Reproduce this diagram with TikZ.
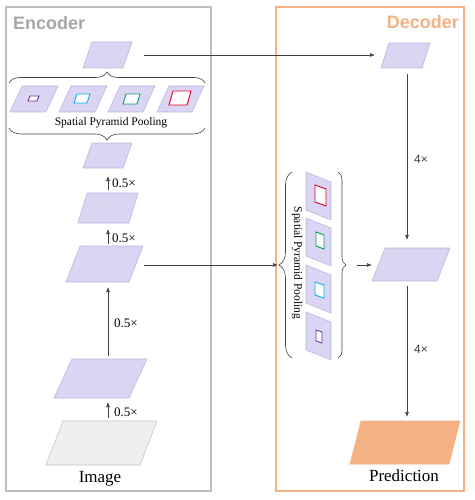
\documentclass[tikz,border=0pt]{standalone}
\usepackage{fontspec}
\setmainfont{Liberation Serif}
\setsansfont{Liberation Sans}
\usetikzlibrary{arrows.meta,decorations.pathreplacing}
\definecolor{lav}{RGB}{217,213,242}
\definecolor{lavd}{RGB}{188,183,226}
\definecolor{imgf}{RGB}{239,239,239}
\definecolor{imgd}{RGB}{196,196,196}
\definecolor{predf}{RGB}{244,177,131}
\definecolor{encg}{RGB}{191,191,191}
\definecolor{enct}{RGB}{166,166,166}
\definecolor{decc}{RGB}{244,177,131}
\definecolor{dline}{RGB}{64,64,64}
\definecolor{ipur}{RGB}{112,48,160}
\definecolor{iblu}{RGB}{0,176,240}
\definecolor{igrn}{RGB}{0,160,100}
\definecolor{ired}{RGB}{230,0,40}
% horizontal parallelogram: name, x0, y0, x1, y1, slant, style
\newcommand\hpara[7]{%
  \node[inner sep=0pt,outer sep=0pt,minimum width={(#4-#2)*1pt},minimum height={(#5-#3)*1pt}] (#1) at ({(#2+#4)/2},{(#3+#5)/2}) {};
  \draw[#7] ({#2+#6},#3) -- (#4,#3) -- ({#4-#6},#5) -- (#2,#5) -- cycle;}
% vertical parallelogram: name, x0, y0, x1, y1, shear, style
\newcommand\vpara[7]{%
  \node[inner sep=0pt,outer sep=0pt,minimum width={(#4-#2)*1pt},minimum height={(#5-#3)*1pt}] (#1) at ({(#2+#4)/2},{(#3+#5)/2}) {};
  \draw[#7] (#2,#3) -- (#4,{#3+#6}) -- (#4,#5) -- (#2,{#5-#6}) -- cycle;}
\begin{document}
\begin{tikzpicture}[x=1pt,y=-1pt,
  lavp/.style={fill=lav,draw=lavd,line width=0.6pt},
  imgp/.style={fill=imgf,draw=imgd,line width=0.6pt},
  predp/.style={fill=predf,draw=predf,line width=0.6pt},
  inner/.style={fill=white,line width=0.9pt},
  arr/.style={draw=dline,line width=0.7pt,-{Latex[length=5pt,width=4pt]}},
  brc/.style={draw=dline,line width=0.6pt,decorate},
  lab/.style={font=\fontsize{13}{15}\selectfont,text=black,inner sep=0pt},
  labs/.style={font=\sffamily\fontsize{12}{14}\selectfont,text=dline,inner sep=0pt},
  spp/.style={font=\fontsize{11.5}{13}\selectfont,inner sep=0pt},
  captext/.style={font=\fontsize{17}{19}\selectfont,inner sep=0pt}]
\useasboundingbox (0,0) rectangle (474,500);
% frames
\draw[draw=encg,line width=1.2pt] (6,7) rectangle (211,491);
\draw[draw=decc,line width=1.2pt] (276,7) rectangle (464,491);
\node[anchor=west,font=\sffamily\bfseries\fontsize{18}{20}\selectfont,text=enct,inner sep=0pt] (enct) at (13,23) {Encoder};
\node[anchor=east,font=\sffamily\bfseries\fontsize{18}{20}\selectfont,text=decc,inner sep=0pt] (dect) at (459,22) {Decoder};
% encoder
\hpara{e1}{83}{42}{132}{68}{9}{lavp}
\hpara{s1}{10}{86}{58}{112}{12}{lavp}
\hpara{s2}{59}{86}{107}{112}{12}{lavp}
\hpara{s3}{108}{86}{155}{112}{12}{lavp}
\hpara{s4}{157}{86}{204}{112}{12}{lavp}
\hpara{i1}{28}{96}{39}{101}{2}{inner,draw=ipur}
\hpara{i2}{74}{94}{90}{103}{3}{inner,draw=iblu}
\hpara{i3}{123}{94}{140}{104}{3}{inner,draw=igrn}
\hpara{i4}{169}{91}{191}{105}{4}{inner,draw=ired}
\node[spp] (sppt) at (111,123) {Spatial Pyramid Pooling};
\draw[brc,decoration={brace,amplitude=11pt}] (9,83) -- (205,83);
\draw[brc,decoration={brace,amplitude=12pt}] (205,128) -- (9,128);
\hpara{e2}{83}{143}{132}{168}{9}{lavp}
\hpara{e3}{78}{193}{138}{223}{9}{lavp}
\hpara{e4}{66}{246}{143}{282}{14}{lavp}
\hpara{e5}{54}{359}{147}{398}{18}{lavp}
\hpara{img}{46}{421}{157}{465}{17}{imgp}
\node[captext] (imgt) at (100,479) {Image};
\coordinate (sp) at (108,0);
\draw[arr,shorten <=3pt,shorten >=8pt] (e3.north -| sp) -- (e2.south -| sp);
\draw[arr,shorten <=2pt,shorten >=6pt] (e4.north -| sp) -- (e3.south -| sp);
\draw[arr,shorten <=3pt,shorten >=5pt] (e5.north -| sp) -- (e4.south -| sp);
\draw[arr,shorten <=3pt,shorten >=4pt] (img.north -| sp) -- (e5.south -| sp);
\node[lab,anchor=west] (l1) at (112,183) {0.5×};
\node[lab,anchor=west] (l2) at (112,238) {0.5×};
\node[lab,anchor=west] (l3) at (114,323) {0.5×};
\node[lab,anchor=west] (l4) at (114,412) {0.5×};
% vertical SPP
\vpara{v1}{306}{172}{331}{220}{10}{lavp}
\vpara{v2}{306}{218}{331}{266}{10}{lavp}
\vpara{v3}{306}{265}{331}{313}{10}{lavp}
\vpara{v4}{306}{312}{331}{360}{10}{lavp}
\vpara{j1}{315}{185}{326}{206}{4}{inner,draw=ired}
\vpara{j2}{316}{232}{324}{249}{3}{inner,draw=igrn}
\vpara{j3}{315}{282}{324}{298}{3}{inner,draw=iblu}
\vpara{j4}{316}{330}{322}{343}{2}{inner,draw=ipur}
\node[spp,rotate=-90] (sppv) at (297,263) {Spatial Pyramid Pooling};
\draw[brc,decoration={brace,amplitude=13pt}] (292,358) -- (292,172);
\draw[brc,decoration={brace,amplitude=8pt}] (338,172) -- (338,358);
\coordinate (lb) at (278,265);
\coordinate (rb) at (346,265);
% decoder
\hpara{d1}{381}{43}{430}{68}{8}{lavp}
\hpara{d2}{372}{248}{450}{281}{13}{lavp}
\hpara{pred}{350}{421}{460}{464}{11}{predp}
\node[captext] (predt) at (404,476) {Prediction};
\coordinate (dx) at (407,0);
\draw[arr,shorten <=6pt,shorten >=8pt] (d1.south -| dx) -- (d2.north -| dx);
\draw[arr,shorten <=5pt,shorten >=4pt] (d2.south -| dx) -- (pred.north -| dx);
\node[labs,anchor=west] (m1) at (414,159) {4×};
\node[labs,anchor=west] (m2) at (414,349) {4×};
% skip connections
\draw[arr,shorten <=12pt,shorten >=6pt] (e1.east) -- (e1.east -| d1.west);
\draw[arr,shorten <=1pt] (e4.east |- lb) -- (lb);
\draw[arr,shorten <=11pt] (rb) -- (d2.west |- rb);
\end{tikzpicture}
\end{document}
